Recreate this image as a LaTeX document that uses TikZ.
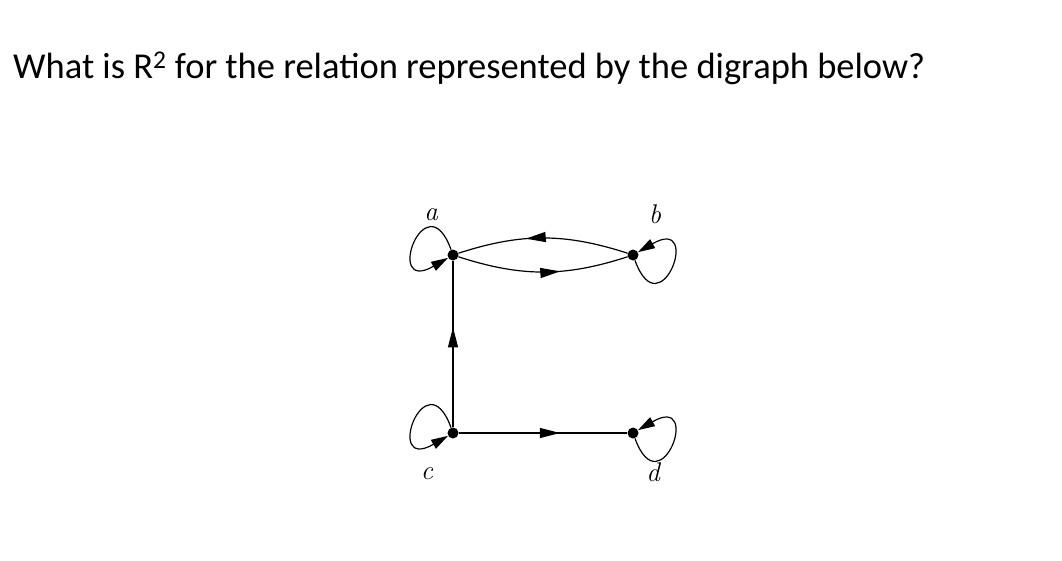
\documentclass[tikz,border=0pt]{standalone}
\usepackage{fontspec}
\setmainfont{Carlito}
\newfontfamily\lm{Latin Modern Roman}
\usetikzlibrary{arrows.meta,decorations.markings}
\begin{document}
\begin{tikzpicture}[x=1pt,y=-1pt,
  vtx/.style={circle,fill=black,inner sep=0pt,minimum size=11pt},
  lbl/.style={font=\lm\itshape\fontsize{27}{27}\selectfont},
  edgeline/.style={line width=1.2pt},
  midarrow/.style={edgeline,postaction={decorate},decoration={markings,mark=at position #1 with {\arrow{Triangle[length=20pt,width=10pt]}}}},
  looparrow/.style={edgeline,-{Triangle[length=17pt,width=10pt]},looseness=22}]
\useasboundingbox (0,0) rectangle (1062,560);
\node[anchor=base west,inner sep=0pt,font=\fontsize{36.5}{36.5}\selectfont] (t) at (13,78) {What is R\textsuperscript{2} for the relation represented by the digraph below?};
\node[vtx] (a) at (453,255) {};
\node[vtx] (b) at (633,255) {};
\node[vtx] (c) at (453,433) {};
\node[vtx] (d) at (633,433) {};
\node[lbl] (la) at (431,215) {a};
\node[lbl] (lb) at (655,214) {b};
\node[lbl] (lc) at (427,474) {c};
\node[lbl] (ld) at (653,472) {d};
\draw[midarrow=0.6] (b) to[bend right=18] (a);
\draw[midarrow=0.6] (a) to[bend right=18] (b);
\draw[midarrow=0.6] (c) -- (a);
\draw[midarrow=0.6] (c) -- (d);
\draw[looparrow] (a) to[out=110,in=210] (a);
\draw[looparrow] (c) to[out=110,in=210] (c);
\draw[looparrow] (b) to[out=-70,in=30] (b);
\draw[looparrow] (d) to[out=-70,in=30] (d);
\end{tikzpicture}
\end{document}
